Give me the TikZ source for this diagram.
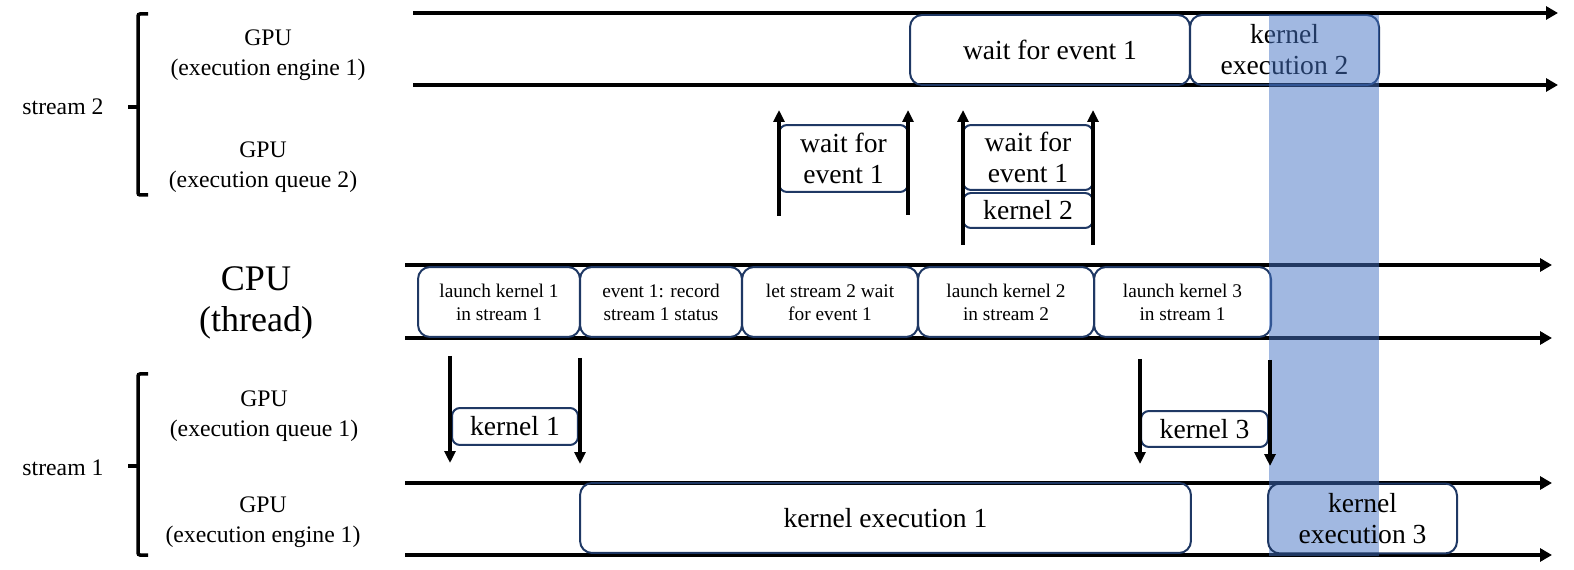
\documentclass[tikz,border=0pt]{standalone}
\usepackage{fontspec}
\setmainfont{Liberation Serif}
\usetikzlibrary{arrows.meta}
\definecolor{boxline}{RGB}{31,56,100}
\definecolor{bandblue}{RGB}{68,114,196}

\begin{document}
\begin{tikzpicture}[x=0.02cm, y=-0.02cm,
    tline/.style={line width=0.08cm, -{Triangle[length=0.24cm, width=0.26cm]}},
    qarrow/.style={line width=0.065cm, -{Triangle[length=0.24cm, width=0.22cm]}},
    brace/.style={line width=0.07cm, rounded corners=0.04cm},
    tbox/.style={draw=boxline, line width=0.04cm, rounded corners=0.24cm, inner sep=0pt, align=center, font=\fontsize{15.7}{17.6}\selectfont},
    cbox/.style={tbox, minimum height=1.4cm, font=\fontsize{11}{13}\selectfont},
    qbox/.style={tbox, rounded corners=0.16cm},
    lab/.style={align=center, font=\fontsize{13.5}{17}\selectfont}]
    \useasboundingbox (0,0) rectangle (1574,570);

    % 時間軸
    \draw[tline] (413,13) -- (1558,13);
    \draw[tline] (413,85) -- (1558,85);
    \draw[tline] (405,265) -- (1552,265);
    \draw[tline] (405,338) -- (1552,338);
    \draw[tline] (405,483) -- (1552,483);
    \draw[tline] (405,555) -- (1552,555);

    % 左のラベル
    \node[lab] (s2) at (63,107) {stream 2};
    \node[lab] (s1) at (63,468) {stream 1};
    \node[lab] (gE2) at (268,55) {GPU\\(execution engine 1)};
    \node[lab] (gQ2) at (263,167) {GPU\\(execution queue 2)};
    \node[align=center, font=\fontsize{20.5}{23.3}\selectfont] (cpu) at (256,303) {CPU\\(thread)};
    \node[lab] (gQ1) at (264,416) {GPU\\(execution queue 1)};
    \node[lab] (gE1) at (263,522) {GPU\\(execution engine 1)};

    % 括弧
    \draw[brace] (148,14) -- (138,14) -- (138,195) -- (148,195);
    \draw[brace] (138,107) -- (128,107);
    \draw[brace] (148,374) -- (138,374) -- (138,555) -- (148,555);
    \draw[brace] (138,466) -- (128,466);

    % CPU の処理
    \node[cbox, minimum width=3.24cm] (c1) at (499,302) {launch kernel 1\\in stream 1};
    \node[cbox, minimum width=3.24cm] (c2) at (661,302) {event 1: record\\stream 1 status};
    \node[cbox, minimum width=3.52cm] (c3) at (830,302) {let stream 2 wait\\for event 1};
    \node[cbox, minimum width=3.52cm] (c4) at (1006,302) {launch kernel 2\\in stream 2};
    \node[cbox, minimum width=3.54cm] (c5) at (1182.5,302) {launch kernel 3\\in stream 1};

    % stream 2
    \node[tbox, minimum width=5.6cm, minimum height=1.4cm] (wtop) at (1050,50) {wait for event 1};
    \node[tbox, minimum width=3.78cm, minimum height=1.4cm] (kexec2) at (1284.5,50) {kernel\\execution 2};
    \node[qbox, minimum width=2.58cm, minimum height=1.34cm] (wq1) at (843.5,158.5) {wait for\\event 1};
    \node[qbox, minimum width=2.6cm, minimum height=1.3cm] (wq2) at (1028,157.5) {wait for\\event 1};
    \node[qbox, minimum width=2.6cm, minimum height=0.7cm] (k2) at (1028,210.5) {kernel 2};
    \draw[qarrow] (779,216) -- (779,110);
    \draw[qarrow] (908,215) -- (908,110);
    \draw[qarrow] (963,245) -- (963,110);
    \draw[qarrow] (1093,245) -- (1093,110);

    % stream 1
    \node[qbox, minimum width=2.52cm, minimum height=0.74cm] (k1) at (515,426.5) {kernel 1};
    \node[qbox, minimum width=2.54cm, minimum height=0.72cm] (k3) at (1204.5,429) {kernel 3};
    \node[tbox, minimum width=12.22cm, minimum height=1.4cm] (kexec1) at (885.5,518) {kernel execution 1};
    \draw[qarrow] (450,356) -- (450,463);
    \draw[qarrow] (580,358) -- (580,464);
    \draw[qarrow] (1140,359) -- (1140,464);

    % 重なる区間
    \fill[bandblue, fill opacity=0.5] (1269,15) rectangle (1379,556);

    \draw[qarrow] (1270,360) -- (1270,466);
    \node[tbox, minimum width=3.78cm, minimum height=1.4cm] (kexec3) at (1362.5,518.5) {kernel\\execution 3};

\end{tikzpicture}
\end{document}
